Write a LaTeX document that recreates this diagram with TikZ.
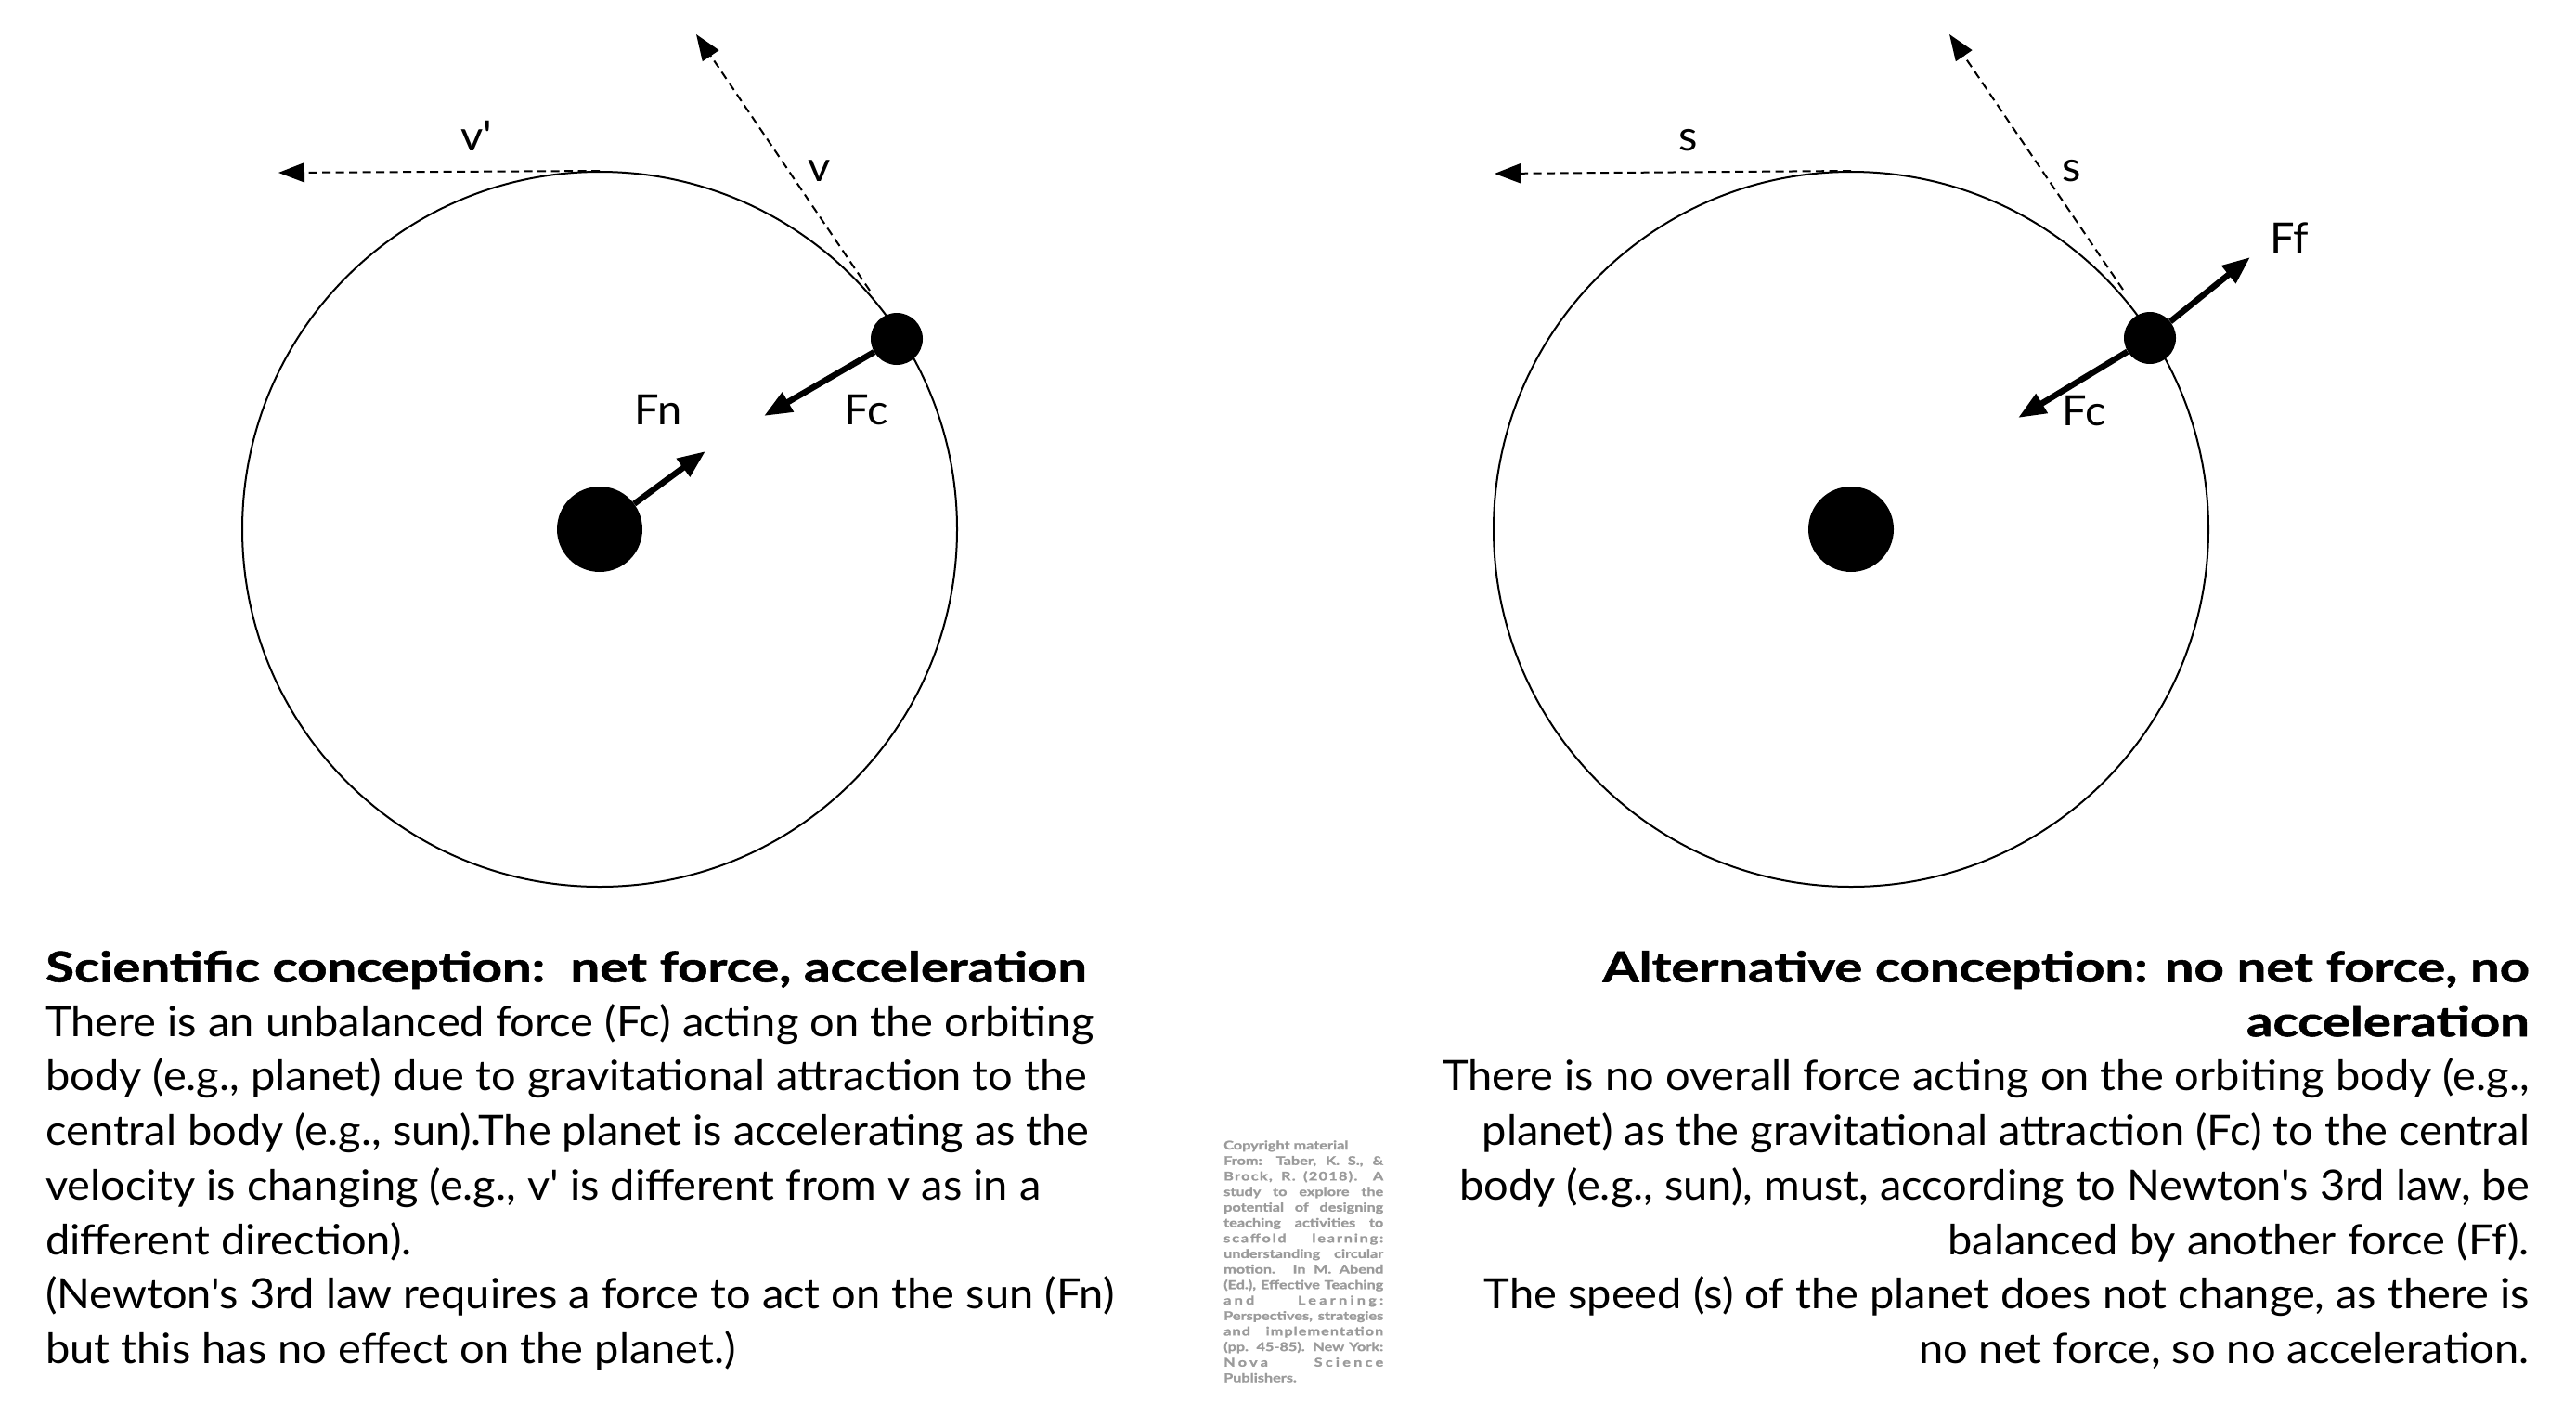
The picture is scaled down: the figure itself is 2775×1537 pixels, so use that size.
\documentclass[tikz,border=0pt]{standalone}
\usepackage{fontspec}
\setmainfont{Lato}[Ligatures=TeXOff, FakeStretch=1.045]
\newfontfamily\headfont{Lato}[Ligatures=TeXOff, FakeStretch=1.25, FakeBold=1.2]
\usetikzlibrary{arrows.meta}
\definecolor{cpgray}{RGB}{155,155,155}
\newcommand\cpline[1]{\setbox0\hbox{#1}\ifdim\wd0>\hsize
  \hbox to\hsize{\resizebox{\hsize}{\ht0}{#1}}\else\hbox to\hsize{#1}\fi}
\begin{document}
\begin{tikzpicture}[x=1pt,y=-1pt,
  orbit/.style={draw, circle, line width=2pt, inner sep=0pt, minimum size=770pt},
  mass/.style={circle, fill=black, inner sep=0pt},
  force/.style={line width=6.5pt, -{Triangle[length=30pt,width=23pt]}},
  vel/.style={line width=2pt, dash pattern=on 9pt off 5.5pt, -{Triangle[length=28pt,width=21pt]}},
  lbl/.style={font=\fontsize{45}{54}\selectfont, inner sep=0pt, anchor=base},
  txt/.style={font=\fontsize{45}{58.7}\selectfont, inner sep=0pt},
  cp/.style={font=\headfont\bfseries\fontsize{13}{16.7}\selectfont, text=cpgray, inner sep=0pt, anchor=base west}]
\useasboundingbox (0,0) rectangle (2775,1537);
\fill[white] (0,0) rectangle (2775,1537);

% ---------- left diagram ----------
\node[orbit] (orbL) at (646,570) {};
\node[mass, minimum size=92pt] (sunL) at (646,570) {};
\node[mass, minimum size=56pt] (plL) at (966,365) {};
\coordinate (fcTipL) at (823,448);
\coordinate (fnTipL) at (760,486);
\coordinate (vStartL) at (937,313);
\coordinate (vTipL) at (750,37);
\coordinate (vpTipL) at (300,186);
\draw[force] (plL) -- (fcTipL);
\draw[force] (sunL) -- (fnTipL);
\draw[vel] (vStartL) -- (vTipL);
\draw[vel] (orbL.north) -- (vpTipL);
\node[lbl] (vpL) at (513,162) {v'};
\node[lbl] (vL) at (883,195) {v};
\node[lbl] (fnL) at (709,457) {Fn};
\node[lbl] (fcL) at (933,457) {Fc};

% ---------- right diagram ----------
\node[orbit] (orbR) at (1994,570) {};
\node[mass, minimum size=92pt] (sunR) at (1994,570) {};
\node[mass, minimum size=56pt] (plR) at (2316,364) {};
\coordinate (fcTipR) at (2174,450);
\coordinate (ffTipR) at (2424,277);
\coordinate (sStartR) at (2287,312);
\coordinate (sTipR) at (2100,37);
\coordinate (shTipR) at (1610,187);
\draw[force] (plR) -- (fcTipR);
\draw[force] (plR) -- (ffTipR);
\draw[vel] (sStartR) -- (sTipR);
\draw[vel] (orbR.north) -- (shTipR);
\node[lbl] (sh) at (1819,162) {s};
\node[lbl] (sd) at (2232,195) {s};
\node[lbl] (ffR) at (2466,272) {Ff};
\node[lbl] (fcR) at (2245,458) {Fc};

% ---------- left text ----------
\node[txt, anchor=base west] (textL) at (49,1057.5) {\vtop{\halign{#\hfil\cr
{\headfont\bfseries Scientific conception:\ \ net force, acceleration}\cr
There is an unbalanced force (Fc) acting on the orbiting\cr
body (e.g., planet) due to gravitational attraction to the\cr
central body (e.g., sun).The planet is accelerating as the\cr
velocity is changing (e.g., v' is different from v as in a\cr
different direction).\cr
(Newton's 3rd law requires a force to act on the sun (Fn)\cr
but this has no effect on the planet.)\cr}}};

% ---------- right text ----------
\node[txt, anchor=base east] (textR) at (2725,1057.5) {\vtop{\halign{\hfil#\cr
{\headfont\bfseries Alternative conception: no net force, no}\cr
{\headfont\bfseries acceleration}\cr
There is no overall force acting on the orbiting body (e.g.,\cr
planet) as the gravitational attraction (Fc) to the central\cr
body (e.g., sun), must, according to Newton's 3rd law, be\cr
balanced by another force (Ff).\cr
The speed (s) of the planet does not change, as there is\cr
no net force, so no acceleration.\cr}}};

% ---------- copyright ----------
\node[cp] (copy) at (1318,1238) {\vtop{\hsize=172pt\baselineskip=16.7pt
\hbox{Copyright material}
\cpline{From: Taber, K. S., \&}
\cpline{\addfontfeature{LetterSpace=10}Brock, R. (2018). A}
\cpline{study to explore the}
\cpline{potential of designing}
\cpline{teaching activities to}
\cpline{\addfontfeature{LetterSpace=14}scaffold learning:}
\cpline{understanding circular}
\cpline{motion. In M. Abend}
\cpline{(Ed.), Effective Teaching}
\cpline{\addfontfeature{LetterSpace=25}and Learning:}
\cpline{Perspectives, strategies}
\cpline{\addfontfeature{LetterSpace=8}and implementation}
\cpline{(pp. 45-85). New York:}
\cpline{\addfontfeature{LetterSpace=25}Nova Science}
\hbox{Publishers.}}};
\end{tikzpicture}
\end{document}
